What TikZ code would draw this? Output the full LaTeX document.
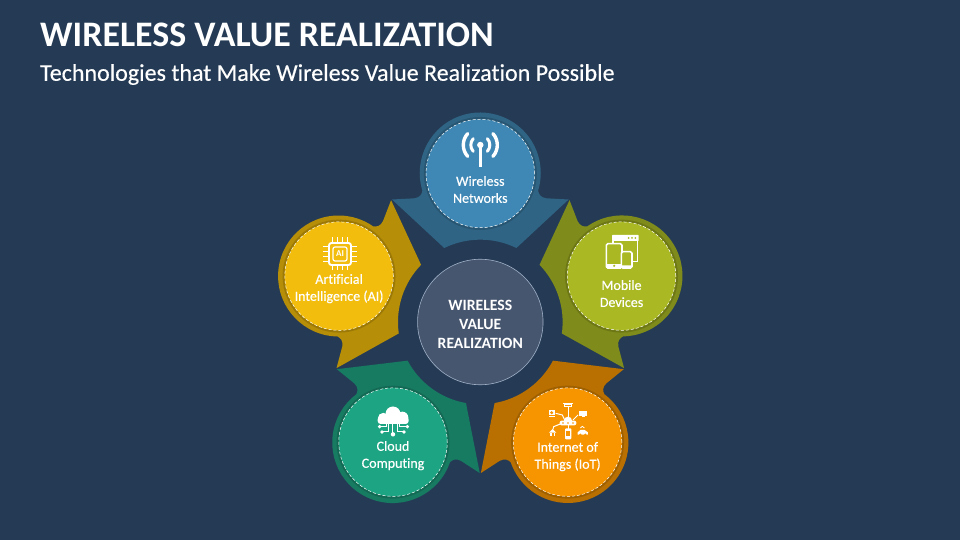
\documentclass[tikz,border=0pt]{standalone}
\usepackage{fontspec}
\setmainfont[Ligatures=NoCommon]{Carlito}
\newfontfamily\medfont[FakeBold=0.35,Ligatures=NoCommon]{Carlito}
\definecolor{bgblue}{HTML}{253B55}
\definecolor{hubfill}{HTML}{47566F}
\definecolor{hubline}{HTML}{9FB0C6}
\definecolor{netin}{HTML}{3F88B5}
\definecolor{netout}{HTML}{2F6484}
\definecolor{mobin}{HTML}{AAB923}
\definecolor{mobout}{HTML}{7F8B1A}
\definecolor{iotin}{HTML}{F79500}
\definecolor{iotout}{HTML}{BA7000}
\definecolor{clin}{HTML}{1DA583}
\definecolor{clout}{HTML}{177B62}
\definecolor{aiin}{HTML}{F2BD0D}
\definecolor{aiout}{HTML}{B68E08}
\tikzset{
  disc/.style={circle,inner sep=0pt,minimum size=108.5pt,draw=white!80,densely dashed,line width=.5pt},
  tag/.style={text=white,align=center,font=\medfont\fontsize{14}{17}\selectfont},
  zoompx/.style={x=.3333pt,y=-.3333pt},
  iconline/.style={white,line width=1.6pt}
}
\begin{document}
\begin{tikzpicture}[x=1pt,y=1pt]
\fill[bgblue] (-480.3,-218) rectangle (479.7,322);
\path[use as bounding box] (-480.3,-218) rectangle (479.7,322);
\node[anchor=west,inner sep=0pt,text=white,font=\fontsize{35.9}{38}\selectfont\bfseries] (title) at (-440.3,287) {WIRELESS VALUE REALIZATION};
\node[anchor=west,inner sep=0pt,text=white,font=\medfont\fontsize{24}{26}\selectfont] (subtitle) at (-440.3,247.5) {Technologies that Make Wireless Value Realization Possible};
\foreach \ang/\colout/\colin/\nm/\txt/\dy in {90/netout/netin/net/{Wireless\\Networks}/16,18/mobout/mobin/mob/{Mobile\\Devices}/17.5,-54/iotout/iotin/iot/{Internet of\\Things (IoT)}/14.5,-126/clout/clin/cloud/{Cloud\\Computing}/13.5,162/aiout/aiin/ai/{Artificial\\Intelligence (AI)}/12.5}{
\begin{scope}[rotate=\ang-90]
\fill[\colout] (-88.3,122.5) -- (-66,123.7) .. controls (-60,124.5) and (-58.5,128) .. (-57.9,131.3)
  arc[start angle=197,end angle=-17,radius=60.5pt]
  .. controls (58.5,128) and (60,124.5) .. (66,123.7) -- (88.3,122.5) -- (36.1,74)
  arc[start angle=64,end angle=116,radius=82.3pt] -- cycle;
\end{scope}
\fill[black,opacity=.14] (\ang:148.5) circle[radius=56.5pt];
\node[disc,fill=\colin] (\nm) at (\ang:148.5) {};
\node[tag] (\nm label) at ([yshift=-\dy pt]\nm.center) {\txt};
}
\node[circle,inner sep=0pt,minimum size=125.5pt,fill=hubfill,draw=hubline,line width=.6pt] (hub) at (0,0) {};
\node[text=white,align=center,font=\fontsize{15.7}{19}\selectfont\bfseries] (hub label) at (0,-2) {WIRELESS\\VALUE\\REALIZATION};
% wireless
\begin{scope}[shift={(0,177)}]
\fill[white] (0,0) circle[radius=3.2pt];
\draw[white,line width=2.6pt] (0,0) -- (0,-22);
\foreach \rr/\lw in {9.5/3,17/3.4}{
\draw[white,line width=\lw pt,line cap=round] (-42:\rr) arc[start angle=-42,end angle=42,radius=\rr pt];
\draw[white,line width=\lw pt,line cap=round] (138:\rr) arc[start angle=138,end angle=222,radius=\rr pt];
}
\end{scope}
% chip
\begin{scope}[shift={(-140.3,68)}]
\draw[white,line width=1.9pt,rounded corners=2.5pt] (-11,-11) rectangle (11,11);
\draw[white,line width=1.2pt,rounded corners=2pt] (-7,-7) rectangle (7,7);
\node[text=white,inner sep=0pt,font=\fontsize{9}{9}\selectfont\bfseries] (chip) at (0,0) {AI};
\foreach \s in {-7.5,-2.5,2.5,7.5}{
\draw[white,line width=1.2pt] (\s,11) -- (\s,16.5);
\draw[white,line width=1.2pt] (\s,-11) -- (\s,-16.5);
\draw[white,line width=1.2pt] (11,\s) -- (16.5,\s);
\draw[white,line width=1.2pt] (-11,\s) -- (-16.5,\s);
}
\end{scope}
% devices
\begin{scope}[shift={(117.7,92)},zoompx]
\fill[white,rounded corners=.6pt] (42,15) rectangle (122,33);
\foreach \s in {92,102,112}{\fill[mobin] (\s,24) circle[radius=1pt];}
\draw[iconline] (45,33) -- (45,42);
\draw[iconline] (119,33) -- (119,95) -- (105,95);
\draw[iconline,fill=mobin,rounded corners=1.5pt] (25,41) rectangle (72,114);
\fill[white] (25,101) rectangle (72,114);
\fill[mobin] (48.5,107.5) circle[radius=1.2pt];
\draw[iconline,fill=mobin,rounded corners=1.5pt] (70,65) rectangle (102,114);
\fill[white,rounded corners=.5pt] (70,106) rectangle (102,114);
\end{scope}
% cloud
\begin{scope}[shift={(-112.3,-78)},zoompx]
\fill[white] (75,42) circle[radius=7.5pt];
\fill[white] (103,53) circle[radius=6pt];
\fill[white] (46,55) circle[radius=5.5pt];
\fill[white,rounded corners=3pt] (29,50) rectangle (122,72);
\foreach \xa/\xb/\ya in {55/35/80,95/118/80,62/42/96,88/108/96}{
\draw[white,line width=1pt] (\xa,72) -- (\xa,\ya) -- (\xb,\ya);
\fill[white] (\xb,\ya) circle[radius=1.9pt];
}
\draw[white,line width=1pt] (75,72) -- (75,103);
\fill[white] (75,103) circle[radius=2.2pt];
\end{scope}
% iot
\begin{scope}[shift={(62.7,-78)},zoompx]
\draw[white,line width=1pt] (38,40) -- (58,45) -- (65,60);
\draw[white,line width=1pt] (75,20) -- (75,58);
\draw[white,line width=1pt] (105,45) -- (90,60);
\draw[white,line width=1pt] (52,72) -- (32,80) -- (30,88);
\draw[white,line width=1pt] (75,74) -- (75,86);
\fill[white] (17,30) rectangle (35,46);
\fill[iotin] (26,38) circle[radius=1.7pt];
\fill[white] (17,49) rectangle (35,52);
\fill[white] (60,8) rectangle (90,13);
\draw[white,line width=.8pt] (64,13) rectangle (86,20);
\fill[white] (108,34) rectangle (133,47);
\fill[white] (116,47) rectangle (125,52);
\fill[white] (75,62) circle[radius=4pt];
\fill[white,rounded corners=2pt] (50,62) rectangle (100,76);
\foreach \s in {60,75,90}{\fill[iotin] (\s,69) circle[radius=.9pt];}
\fill[white] (18,98) -- (29,87) -- (40,98) -- cycle;
\fill[white] (21,98) rectangle (37,108);
\fill[iotin] (26,100) rectangle (32,108);
\fill[white,rounded corners=1pt] (66,85) rectangle (85,118);
\fill[iotin] (69,92) rectangle (82,108);
\fill[white] (104,97) -- (112,90) -- (125,90) -- (135,97) -- (135,104) -- (104,104) -- cycle;
\fill[iotin] (112,104) circle[radius=1.2pt];
\fill[iotin] (127,104) circle[radius=1.2pt];
\draw[white,line width=.8pt] (112,84) -- (118,79) -- (124,84);
\end{scope}
\end{tikzpicture}
\end{document}
